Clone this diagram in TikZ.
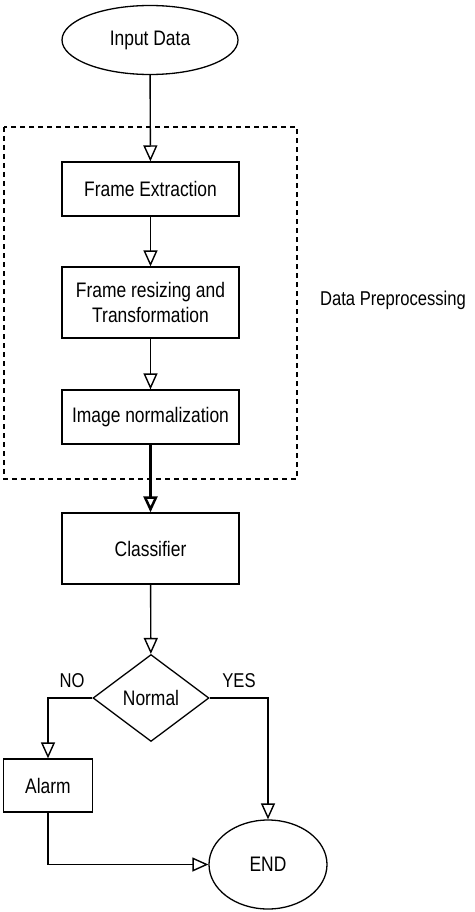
\documentclass[tikz,border=0pt]{standalone}
\usepackage{fontspec}
\setmainfont[FakeStretch=0.83]{Liberation Sans}
\usetikzlibrary{shapes.geometric,arrows.meta}

\begin{document}
\begin{tikzpicture}[x=1pt,y=-1pt,
    every node/.style={font=\fontsize{21}{25}\selectfont},
    box/.style={draw, line width=1.3pt, minimum width=177pt, inner sep=0pt},
    oval/.style={draw, ellipse, line width=1.3pt, inner sep=0pt},
    label text/.style={font=\fontsize{20}{24}\selectfont},
    flow/.style={line width=1.4pt, -{Triangle[open, length=16pt, width=14pt]}}]
    \useasboundingbox (0,0) rectangle (474,912);

    % Start
    \node[oval, minimum width=176pt, minimum height=69pt] (input) at (150,40) {Input Data};

    % Preprocessing stage
    \node[box, minimum height=54pt] (extract) at (150.5,189) {Frame Extraction};
    \node[box, minimum height=71pt, align=center] (resize) at (150.5,302.5) {Frame resizing and\\Transformation};
    \node[box, minimum height=54pt] (norm) at (150.5,417) {Image normalization};
    \draw[dash pattern=on 5pt off 4pt, line width=1.4pt] (4,127) rectangle (297,479);
    \node[label text] (prep) at (393,300) {Data Preprocessing};

    % Classification and decision
    \node[box, minimum height=71pt] (classifier) at (150.5,548.5) {Classifier};
    \node[draw, diamond, line width=1.3pt, minimum width=116pt, minimum height=87pt, inner sep=0pt] (normal) at (151,698) {Normal};
    \node[label text] (no) at (72,681) {NO};
    \node[label text] (yes) at (239,681) {YES};
    \node[box, minimum width=89pt, minimum height=53pt] (alarm) at (48,785.5) {Alarm};
    \node[oval, minimum width=118pt, minimum height=89pt] (end) at (268,864.5) {END};

    % Connectors
    \draw[flow] (input) -- (extract);
    \draw[flow] (extract) -- (resize);
    \draw[flow] (resize) -- (norm);
    \draw[flow, line width=2.5pt] (norm) -- (classifier);
    \draw[flow] (classifier) -- (normal);
    \draw[flow] (normal.west) -| (alarm.north);
    \draw[flow] (normal.east) -| (end.north);
    \draw[flow] (alarm.south) |- (end.west);
\end{tikzpicture}
\end{document}
